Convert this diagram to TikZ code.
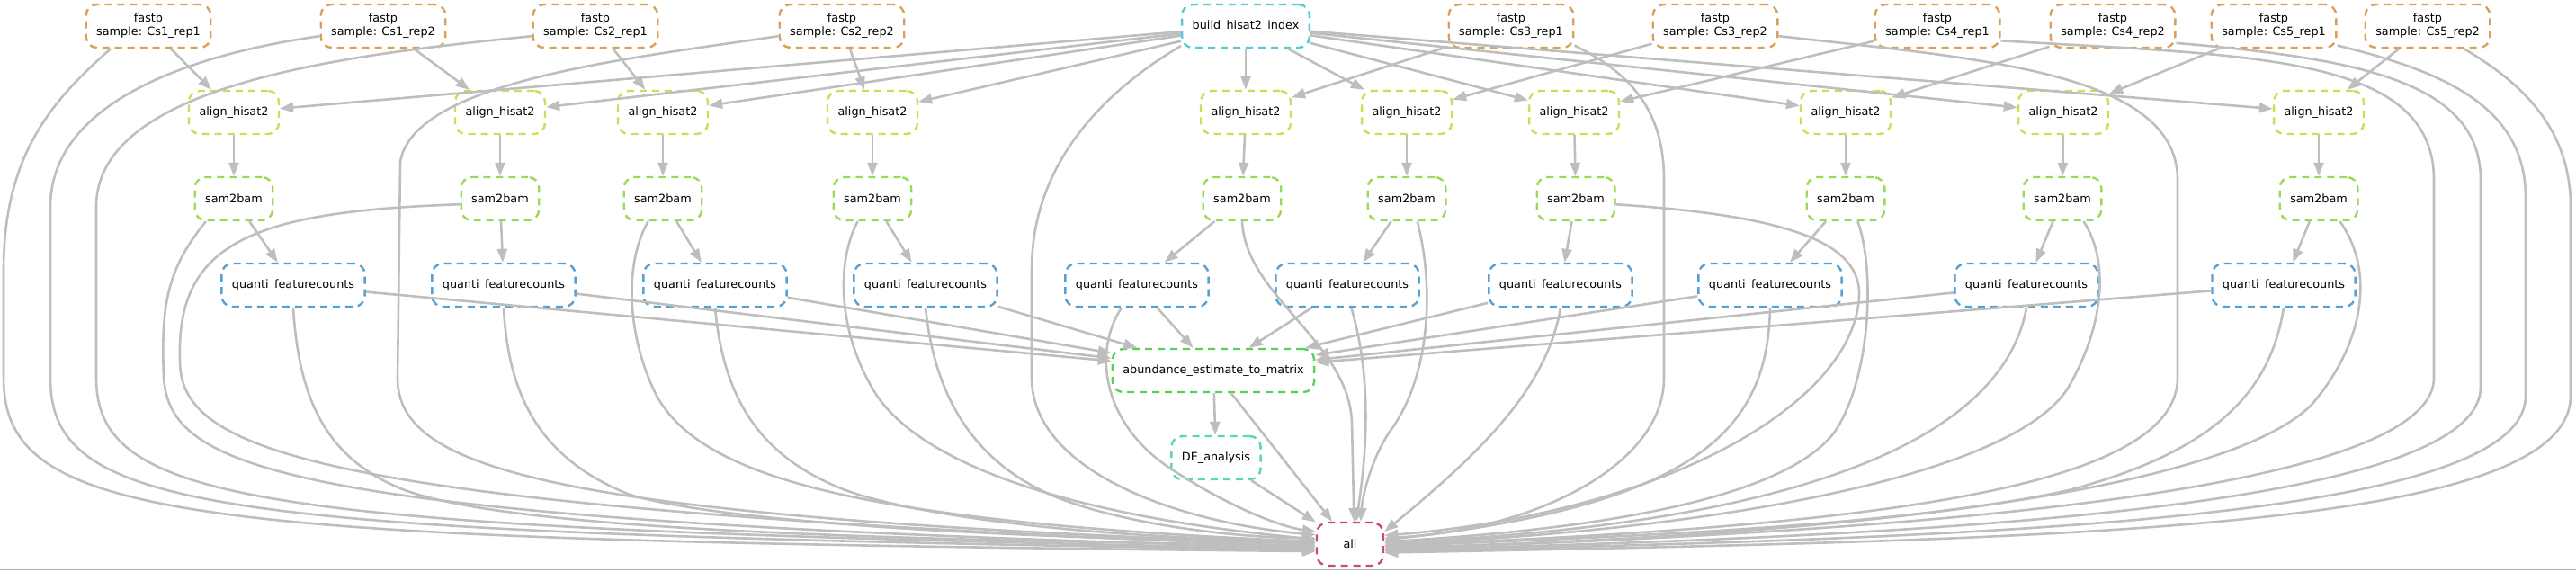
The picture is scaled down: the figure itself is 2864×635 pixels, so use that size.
\documentclass[tikz,border=0pt]{standalone}
\usepackage{fontspec}
\setmainfont{DejaVu Sans}
\usetikzlibrary{arrows.meta}

\definecolor{edgegray}{RGB}{190,190,190}
\definecolor{fastpcol}{RGB}{217,160,90}
\definecolor{indexcol}{RGB}{87,202,217}
\definecolor{aligncol}{RGB}{212,217,87}
\definecolor{bamcol}{RGB}{152,217,87}
\definecolor{countcol}{RGB}{87,160,210}
\definecolor{matrixcol}{RGB}{87,210,87}
\definecolor{decol}{RGB}{87,217,176}
\definecolor{allcol}{RGB}{200,80,100}

\begin{document}
\begin{tikzpicture}[x=1pt, y=-1pt,
    job/.style={line width=2.4pt, dash pattern=on 8pt off 6pt, rounded corners=12pt,
      inner xsep=11.5pt, inner ysep=2pt, minimum width=74pt, minimum height=48pt,
      align=center, font=\fontsize{12.8}{15}\selectfont},
    fastpjob/.style={job, draw=fastpcol},
    indexjob/.style={job, draw=indexcol},
    alignjob/.style={job, draw=aligncol},
    bamjob/.style={job, draw=bamcol},
    countjob/.style={job, draw=countcol},
    matrixjob/.style={job, draw=matrixcol},
    dejob/.style={job, draw=decol},
    alljob/.style={job, draw=allcol},
    flow/.style={draw=edgegray, line width=2.6pt, -{Triangle[length=15pt, width=11pt]}}]
  \useasboundingbox (0,0) rectangle (2864,635);

  % Top row: fastp jobs and the index job
  \foreach \x/\i/\smp in {165/1/Cs1\_rep1, 426/2/Cs1\_rep2, 662/3/Cs2\_rep1, 936/4/Cs2\_rep2,
      1680/5/Cs3\_rep1, 1907/6/Cs3\_rep2, 2154/7/Cs4\_rep1, 2349/8/Cs4\_rep2,
      2528/9/Cs5\_rep1, 2699/10/Cs5\_rep2} {
    \node[fastpjob] (f\i) at (\x,29) {fastp\\sample: \smp};
  }
  \node[indexjob] (bidx) at (1385,29) {build\_hisat2\_index};

  % align_hisat2 and sam2bam rows
  \foreach \x/\xb/\i in {260/260/1, 556/556/2, 737/737/3, 970/970/4, 1385/1381/5,
      1564/1564/6, 1750/1752/7, 2052/2052/8, 2294/2293/9, 2578/2578/10} {
    \node[alignjob] (a\i) at (\x,125) {align\_hisat2};
    \node[bamjob] (s\i) at (\xb,221) {sam2bam};
  }

  % quanti_featurecounts row
  \foreach \x/\i in {326/1, 560/2, 795/3, 1029/4, 1264/5, 1498/6, 1735/7, 1968/8, 2253/9, 2539/10} {
    \node[countjob] (q\i) at (\x,317) {quanti\_featurecounts};
  }

  % Merge, analysis and target
  \node[matrixjob] (abund) at (1349,412) {abundance\_estimate\_to\_matrix};
  \node[dejob] (de) at (1352,509) {DE\_analysis};
  \node[alljob] (all) at (1501,605) {all};

  % Per sample chain
  \foreach \i in {1,...,10} {
    \draw[flow] (f\i) -- (a\i);
    \draw[flow] (bidx) -- (a\i);
    \draw[flow] (a\i) -- (s\i);
    \draw[flow] (s\i) -- (q\i);
    \draw[flow] (q\i) -- (abund);
  }
  \draw[flow] (abund) -- (de);

  % Into all, from the left
  \draw[flow] (f1.211) .. controls (60,110) and (4,170) .. (4,300) -- (4,420) .. controls (4,585) and (220,600) .. (all.192);
  \draw[flow] (f2.189) .. controls (250,55) and (56,100) .. (56,230) -- (56,420) .. controls (56,575) and (250,592) .. (all.190);
  \draw[flow] (f3.189) .. controls (400,60) and (107,90) .. (107,230) -- (107,420) .. controls (107,565) and (300,588) .. (all.188);
  \draw[flow] (s1.219) .. controls (185,300) and (179,340) .. (182,420) .. controls (190,520) and (300,580) .. (all.186);
  \draw[flow] (s2.188) .. controls (280,235) and (196,270) .. (200,400) .. controls (200,500) and (330,565) .. (all.184);
  \draw[flow] (q1.south) .. controls (332,440) and (360,510) .. (450,545) .. controls (560,585) and (900,600) .. (all.182);
  \draw[flow] (f4.189) .. controls (700,65) and (460,90) .. (445,180) -- (442,420) .. controls (442,520) and (600,575) .. (all.180);
  \draw[flow] (q2.south) .. controls (565,440) and (600,510) .. (700,550) .. controls (800,580) and (1100,598) .. (all.178);
  \draw[flow] (s3.237) .. controls (695,290) and (695,370) .. (730,440) .. controls (780,530) and (950,580) .. (all.176);
  \draw[flow] (q3.south) .. controls (805,450) and (850,510) .. (940,545) .. controls (1030,578) and (1250,600) .. (all.174);
  \draw[flow] (s4.237) .. controls (930,290) and (930,370) .. (975,440) .. controls (1030,520) and (1200,575) .. (all.172);
  \draw[flow] (q4.south) .. controls (1040,450) and (1090,520) .. (1180,555) .. controls (1260,585) and (1380,598) .. (all.170);
  \draw[flow] (bidx.197) .. controls (1230,100) and (1147,180) .. (1147,300) -- (1147,420) .. controls (1147,520) and (1300,580) .. (all.165);
  \draw[flow] (q5.236) .. controls (1215,390) and (1225,470) .. (1300,520) .. controls (1360,560) and (1420,585) .. (all.160);

  % Into all, from above
  \draw[flow] (abund) -- (all);
  \draw[flow] (de) -- (all);
  \draw[flow] (s5.south) .. controls (1385,330) and (1500,380) .. (1503,470) -- (all.80);
  \draw[flow] (q6.-80) .. controls (1525,420) and (1520,500) .. (all.75);
  \draw[flow] (s6.-65) .. controls (1595,320) and (1590,420) .. (1545,480) .. controls (1525,510) and (1515,550) .. (all.65);

  % Into all, from the right
  \draw[flow] (q7.south) .. controls (1720,430) and (1650,500) .. (all.20);
  \draw[flow] (s7.-8) .. controls (1990,240) and (2070,270) .. (2067,330) .. controls (2060,450) and (1850,570) .. (all.14);
  \draw[flow] (f5.-17) .. controls (1810,80) and (1850,120) .. (1850,200) -- (1850,420) .. controls (1850,520) and (1700,590) .. (all.10);
  \draw[flow] (q8.south) .. controls (1965,470) and (1900,560) .. (all.7);
  \draw[flow] (s8.-62) .. controls (2085,300) and (2080,420) .. (2040,480) .. controls (1980,560) and (1750,590) .. (all.4);
  \draw[flow] (q9.south) .. controls (2230,470) and (2050,580) .. (all.2);
  \draw[flow] (s9.-47) .. controls (2345,290) and (2340,360) .. (2300,430) .. controls (2240,530) and (1900,590) .. (all.0);
  \draw[flow] (f6.-9) .. controls (2200,65) and (2421,80) .. (2421,200) -- (2421,420) .. controls (2421,540) and (2100,585) .. (all.-2);
  \draw[flow] (q10.south) .. controls (2525,430) and (2470,500) .. (2300,545) .. controls (2100,590) and (1700,600) .. (all.-4);
  \draw[flow] (s10.-47) .. controls (2640,300) and (2630,380) .. (2570,450) .. controls (2480,540) and (2100,595) .. (all.-6);
  \draw[flow] (f7.-13) .. controls (2500,62) and (2706,60) .. (2706,200) -- (2706,420) .. controls (2706,560) and (2000,595) .. (all.-8);
  \draw[flow] (f8.-15) .. controls (2620,65) and (2758,90) .. (2758,200) -- (2758,430) .. controls (2758,570) and (2100,597) .. (all.-10);
  \draw[flow] (f9.-17) .. controls (2720,80) and (2808,120) .. (2808,220) -- (2808,440) .. controls (2808,580) and (2200,598) .. (all.-12);
  \draw[flow] (f10.-32) .. controls (2800,90) and (2858,140) .. (2858,230) -- (2858,440) .. controls (2858,590) and (2300,600) .. (all.-14);

  % Foot line
  \draw[gray!60, line width=1.5pt] (0,633.5) -- (2864,633.5);
\end{tikzpicture}
\end{document}
